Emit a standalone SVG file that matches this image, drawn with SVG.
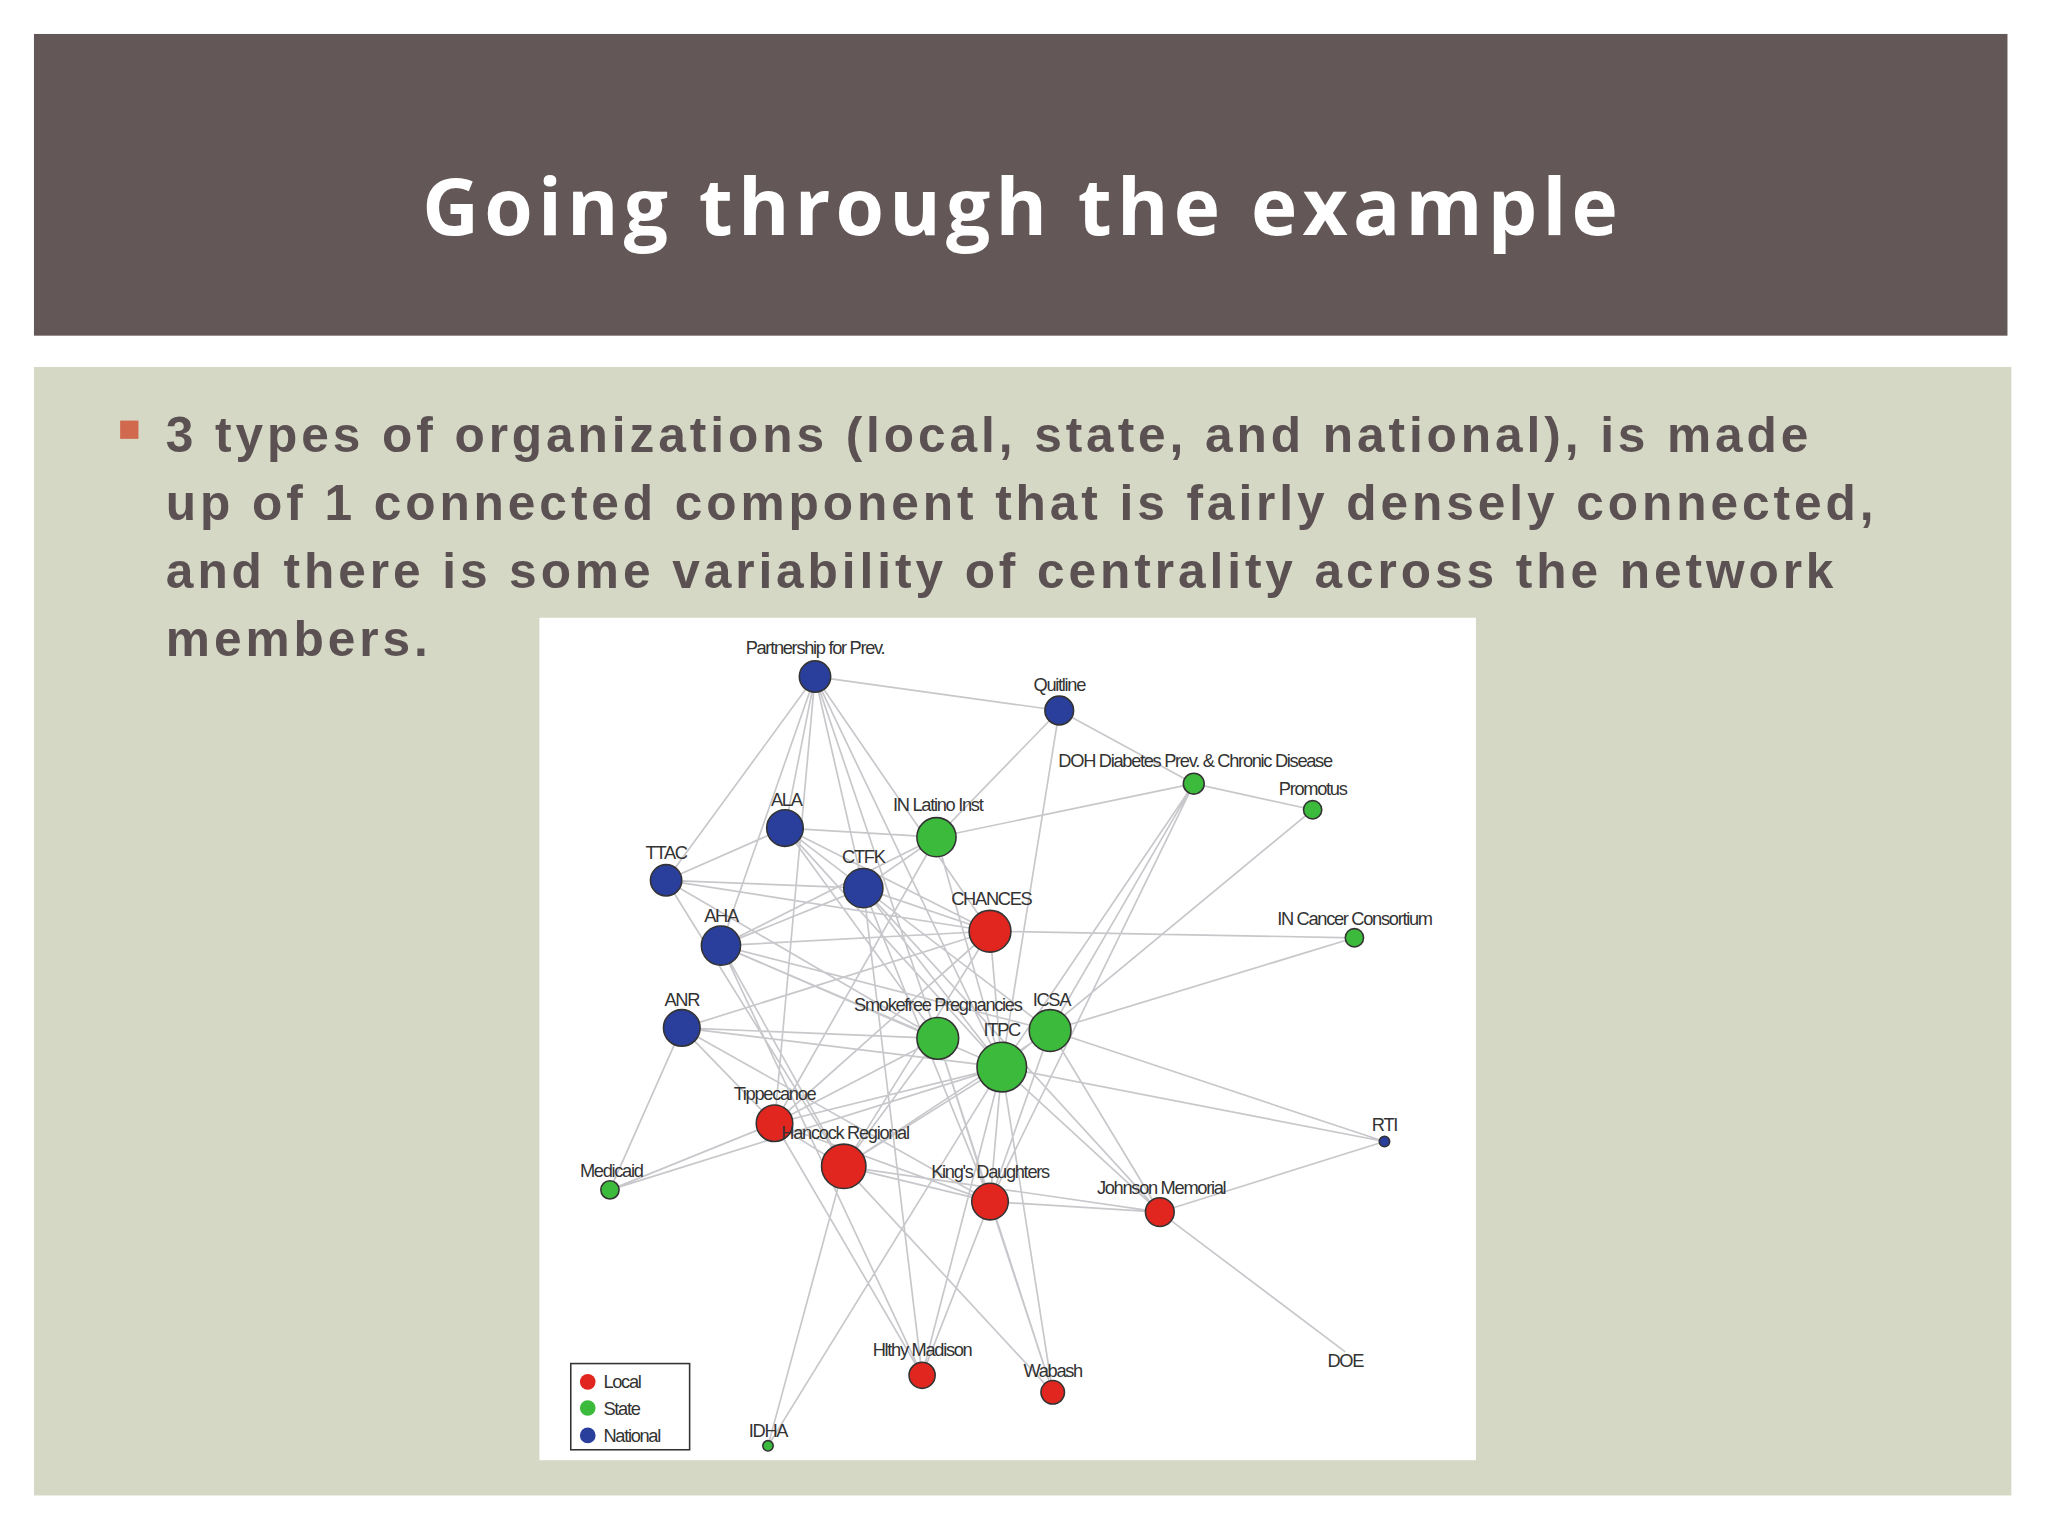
<svg xmlns="http://www.w3.org/2000/svg" width="2048" height="1536" viewBox="0 0 2048 1536">
<style>
.e{stroke:#c8c8cc;stroke-width:1.3;fill:none}
.n{stroke:#333;stroke-width:1.2}
.r{fill:#e0261f}.g{fill:#3cba3c}.b{fill:#2a3f9c}
.l{font-family:"Liberation Sans",Arial,sans-serif;font-size:14px;fill:#333;letter-spacing:-1px;text-anchor:middle}
.t{font-family:"Liberation Sans",Arial,sans-serif;font-size:38px;font-weight:bold;fill:#5b5152;letter-spacing:3px}
</style>
<rect width="2048" height="1536" fill="#fff"/>
<g transform="scale(1.3061)">
<rect x="26" y="26" width="1511" height="231" fill="#635758"/>
<text x="783" y="180" text-anchor="middle" font-family="'Open Sans','Liberation Sans',sans-serif" font-size="60" font-weight="bold" fill="#fff" letter-spacing="4">Going through the example</text>
<rect x="26" y="281" width="1514" height="864" fill="#d6d8c6"/>
<rect x="92" y="322" width="14" height="14" fill="#d0694e"/>
<text class="t" x="127" y="346">3 types of organizations (local, state, and national), is made</text>
<text class="t" x="127" y="398">up of 1 connected component that is fairly densely connected,</text>
<text class="t" x="127" y="450">and there is some variability of centrality across the network</text>
<text class="t" x="127" y="502">members.</text>
<rect x="413" y="473" width="717" height="645" fill="#fff"/>
<g id="connectors">
<path class="e" d="M624 518L811 544M624 518L601 634M624 518L661 680M624 518L758 713M624 518L718 795M624 518L767 817M624 518L510 674M624 518L552 724M624 518L593 860M811 544L717 641M811 544L914 600M811 544L767 817M914 600L1005 620M914 600L717 641M914 600L767 817M914 600L804 789M914 600L758 920M1005 620L767 817M717 641L601 634M717 641L661 680M717 641L552 724M717 641L593 860M717 641L767 817M601 634L510 674M601 634L661 680M601 634L758 713M601 634L718 795M601 634L767 817M510 674L661 680M510 674L758 713M510 674L646 893M510 674L718 795M661 680L758 713M661 680L552 724M661 680L767 817M661 680L804 789M661 680L758 920M661 680L706 1053M661 680L888 928M758 713L1037 718M758 713L552 724M758 713L767 817M758 713L593 860M758 713L646 893M758 713L522 787M1037 718L804 789M552 724L718 795M552 724L767 817M552 724L646 893M552 724L706 1053M552 724L804 789M522 787L718 795M522 787L767 817M522 787L467 911M522 787L593 860M522 787L758 920M718 795L593 860M718 795L646 893M718 795L758 920M718 795L806 1066M804 789L1060 874M804 789L888 928M804 789L646 893M804 789L758 920M767 817L1060 874M767 817L593 860M767 817L646 893M767 817L758 920M767 817L888 928M767 817L706 1053M767 817L806 1066M767 817L588 1107M767 817L467 911M593 860L646 893M593 860L467 911M593 860L758 920M593 860L706 1053M646 893L758 920M646 893L888 928M646 893L806 1066M646 893L588 1107M758 920L888 928M758 920L706 1053M758 920L806 1066M888 928L1030 1035M1060 874L888 928"/>
</g>
<g id="n1"><circle class="n b" cx="624" cy="518" r="12"/><text class="l" x="624" y="501">Partnership for Prev.</text></g>
<g id="n2"><circle class="n b" cx="811" cy="544" r="11"/><text class="l" x="811" y="529">Quitline</text></g>
<g id="n3"><circle class="n g" cx="914" cy="600" r="8"/><text class="l" x="915" y="587">DOH Diabetes Prev. &amp; Chronic Disease</text></g>
<g id="n4"><circle class="n g" cx="1005" cy="620" r="7"/><text class="l" x="1005" y="609">Promotus</text></g>
<g id="n5"><circle class="n g" cx="717" cy="641" r="15"/><text class="l" x="718" y="621">IN Latino Inst</text></g>
<g id="n6"><circle class="n b" cx="601" cy="634" r="14"/><text class="l" x="602" y="617">ALA</text></g>
<g id="n7"><circle class="n b" cx="510" cy="674" r="12"/><text class="l" x="510" y="658">TTAC</text></g>
<g id="n8"><circle class="n b" cx="661" cy="680" r="15"/><text class="l" x="661" y="661">CTFK</text></g>
<g id="n9"><circle class="n r" cx="758" cy="713" r="16"/><text class="l" x="759" y="693">CHANCES</text></g>
<g id="n10"><circle class="n g" cx="1037" cy="718" r="7"/><text class="l" x="1037" y="708">IN Cancer Consortium</text></g>
<g id="n11"><circle class="n b" cx="552" cy="724" r="15"/><text class="l" x="552" y="706">AHA</text></g>
<g id="n12"><circle class="n b" cx="522" cy="787" r="14"/><text class="l" x="522" y="770">ANR</text></g>
<g id="n13"><circle class="n g" cx="718" cy="795" r="16"/><text class="l" x="718" y="774">Smokefree Pregnancies</text></g>
<g id="n14"><circle class="n g" cx="804" cy="789" r="16"/><text class="l" x="805" y="770">ICSA</text></g>
<g id="n15"><circle class="n g" cx="767" cy="817" r="19"/><text class="l" x="767" y="793">ITPC</text></g>
<g id="n16"><circle class="n b" cx="1060" cy="874" r="4"/><text class="l" x="1060" y="866">RTI</text></g>
<g id="n17"><circle class="n r" cx="593" cy="860" r="14"/><text class="l" x="593" y="842">Tippecanoe</text></g>
<g id="n18"><circle class="n r" cx="646" cy="893" r="17"/><text class="l" x="647" y="872">Hancock Regional</text></g>
<g id="n19"><circle class="n g" cx="467" cy="911" r="7"/><text class="l" x="468" y="901">Medicaid</text></g>
<g id="n20"><circle class="n r" cx="758" cy="920" r="14"/><text class="l" x="758" y="902">King's Daughters</text></g>
<g id="n21"><circle class="n r" cx="888" cy="928" r="11"/><text class="l" x="889" y="914">Johnson Memorial</text></g>
<g id="n22"><circle class="n r" cx="706" cy="1053" r="10"/><text class="l" x="706" y="1038">Hlthy Madison</text></g>
<g id="n23"><circle class="n r" cx="806" cy="1066" r="9"/><text class="l" x="806" y="1054">Wabash</text></g>
<g id="n24"><text class="l" x="1030" y="1047">DOE</text></g>
<g id="n25"><circle class="n g" cx="588" cy="1107" r="4"/><text class="l" x="588" y="1100">IDHA</text></g>
<g id="legend">
<rect x="437" y="1044" width="91" height="66" fill="#fff" stroke="#333" stroke-width="1.2"/>
<circle class="r" cx="450" cy="1058" r="6"/><text class="l" x="462" y="1063" text-anchor="start" style="text-anchor:start">Local</text>
<circle class="g" cx="450" cy="1078" r="6"/><text class="l" x="462" y="1083" style="text-anchor:start">State</text>
<circle class="b" cx="450" cy="1099" r="6"/><text class="l" x="462" y="1104" style="text-anchor:start">National</text>
</g>
</g>
</svg>
